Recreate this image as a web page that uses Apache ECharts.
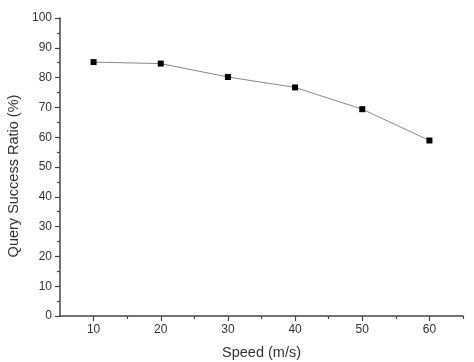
<!DOCTYPE html>
<html><head><meta charset="utf-8">
<script src="https://cdn.jsdelivr.net/npm/echarts@6/dist/echarts.min.js"></script>
<style>html,body{margin:0;padding:0;background:#fff}#c{width:474px;height:362px}</style>
</head><body><div id="c"></div>
<script>
var speeds = [10, 20, 30, 40, 50, 60];
var ratios = [85.2, 84.7, 80.2, 76.7, 69.4, 58.9];
var xMajorTicks = [10, 20, 30, 40, 50, 60];
var xMinorTicks = [15, 25, 35, 45, 55, 65];
var yMajorTicks = [0, 10, 20, 30, 40, 50, 60, 70, 80, 90, 100];
var yMinorTicks = [5, 15, 25, 35, 45, 55, 65, 75, 85, 95];

var font = 'Liberation Sans, Arial, sans-serif';
var axisCol = '#444';
var chart = echarts.init(document.getElementById('c'));
chart.setOption({
  animation: false,
  grid: {left: 60, right: 11, top: 18, bottom: 46, containLabel: false, outerBoundsMode: 'none'},
  xAxis: [{
    type: 'value', min: 5, max: 65, interval: 5,
    name: 'Speed (m/s)', nameLocation: 'middle', nameGap: 29,
    nameTextStyle: {fontFamily: font, fontSize: 14.5, color: '#333'},
    axisLine: {show: true, onZero: false, lineStyle: {color: axisCol, width: 1.5}},
    axisTick: {show: true, length: 5, customValues: xMajorTicks, lineStyle: {color: axisCol, width: 1.2}},
    axisLabel: {customValues: xMajorTicks, margin: 8, fontFamily: font, fontSize: 12, color: '#333'},
    splitLine: {show: false}
  }, {
    type: 'value', min: 5, max: 65, position: 'bottom',
    axisLine: {show: false},
    axisTick: {show: true, length: 3, customValues: xMinorTicks, lineStyle: {color: axisCol, width: 1.2}},
    axisLabel: {show: false},
    splitLine: {show: false}
  }],
  yAxis: [{
    type: 'value', min: 0, max: 100, interval: 10,
    name: 'Query Success Ratio (%)', nameLocation: 'middle', nameGap: 33,
    nameTextStyle: {fontFamily: font, fontSize: 14.5, color: '#333', padding: [0, 18, 0, 0]},
    axisLine: {show: true, lineStyle: {color: axisCol, width: 1.5}},
    axisTick: {show: true, length: 5, customValues: yMajorTicks, lineStyle: {color: axisCol, width: 1.2}},
    axisLabel: {margin: 8, fontFamily: font, fontSize: 12, color: '#333'},
    splitLine: {show: false}
  }, {
    type: 'value', min: 0, max: 100, position: 'left',
    axisLine: {show: false},
    axisTick: {show: true, length: 3, customValues: yMinorTicks, lineStyle: {color: axisCol, width: 1.2}},
    axisLabel: {show: false},
    splitLine: {show: false}
  }],
  series: [{
    type: 'line', data: speeds.map(function (s, i) { return [s, ratios[i]]; }),
    xAxisIndex: 0, yAxisIndex: 0,
    symbol: 'rect', symbolSize: 6,
    itemStyle: {color: '#000'},
    lineStyle: {color: '#888', width: 1}
  }]
});
</script></body></html>
